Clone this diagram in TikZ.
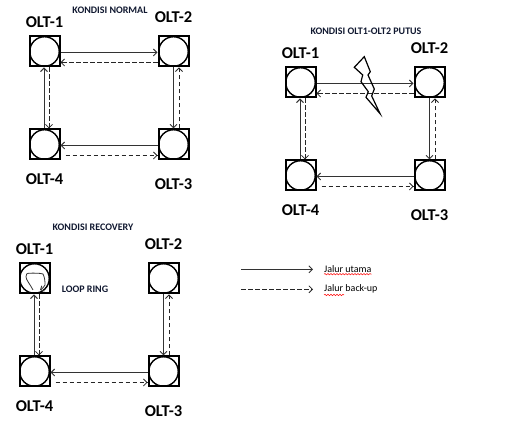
\documentclass[tikz,border=0pt]{standalone}
\usepackage{fontspec}
\setmainfont{Carlito}
\usetikzlibrary{arrows.meta,positioning,calc,decorations.pathmorphing}
\definecolor{titlenavy}{HTML}{101830}
\tikzset{
    oltbox/.style={rectangle, draw=black, line width=2pt, minimum size=30pt, inner sep=0pt, fill=white},
    oltring/.style={circle, draw=black, line width=1.4pt, minimum size=29.5pt, inner sep=0pt},
    oltname/.style={font=\bfseries\fontsize{16.5}{16.5}\selectfont, inner sep=0pt},
    paneltitle/.style={font=\bfseries\fontsize{10}{10}\selectfont, text=titlenavy, inner sep=0pt},
    mainlink/.style={-{Straight Barb[length=3.5pt,width=7pt]}, line width=0.9pt, black!80},
    backlink/.style={-{Straight Barb[length=3.5pt,width=7pt]}, line width=0.8pt, dash pattern=on 4.5pt off 2.5pt, black!85},
    legendtext/.style={font=\fontsize{10}{10}\selectfont, inner sep=0pt, anchor=west},
    spell/.style={red, line width=0.5pt, decorate, decoration={snake, amplitude=0.7pt, segment length=3pt}}
}
\begin{document}
\begin{tikzpicture}[x=1pt,y=-1pt]
\useasboundingbox (0,0) rectangle (528,435);

% the three panels
\foreach \p/\xl/\yt/\xr/\yb in {n/44.5/51.5/173.5/144.5, c/300.5/82.5/429.5/175.5, r/34.5/278.5/163.5/371.5} {
    \node[oltbox] (\p1) at (\xl,\yt) {};
    \node[oltbox] (\p2) at (\xr,\yt) {};
    \node[oltbox] (\p3) at (\xr,\yb) {};
    \node[oltbox] (\p4) at (\xl,\yb) {};
    \foreach \k in {1,2,3,4} \node[oltring] (\p\k c) at (\p\k) {};
    \node[oltname, above=8pt of \p1] {OLT-1};
    \node[oltname, above=13pt of \p2] {OLT-2};
    \node[oltname, below=17.5pt of \p3] {OLT-3};
    \node[oltname, below=12.5pt of \p4] {OLT-4};
    % links on the left, right and bottom
    \draw[mainlink] ([xshift=-0.5pt]\p4.north) -- ([xshift=-0.5pt]\p1.south);
    \draw[backlink] ([xshift=4.5pt]\p1.south) -- ([xshift=4.5pt]\p4.north);
    \draw[mainlink] (\p2.south) -- (\p3.north);
    \draw[backlink] ([xshift=5.5pt]\p3.north) -- ([xshift=5.5pt]\p2.south);
    \draw[mainlink] ([yshift=-1pt]\p3.west) -- ([yshift=-1pt]\p4.east);
    \draw[backlink] ([xshift=5pt,yshift=-11pt]\p4.east) -- ([yshift=-11pt]\p3.west);
}

% top links, not in the recovery panel
\foreach \p in {n,c} {
    \draw[mainlink] ([yshift=-1pt]\p1.east) -- ([yshift=-1pt]\p2.west);
    \draw[backlink] ([yshift=-11pt]\p2.west) -- ([yshift=-11pt]\p1.east);
}

\node[paneltitle] (tn) at (110,10) {KONDISI NORMAL};
\node[paneltitle] (tc) at (366,31) {KONDISI OLT1-OLT2 PUTUS};
\node[paneltitle] (tr) at (93,227) {KONDISI RECOVERY};
\node[paneltitle] (loop) at (85,289) {LOOP RING};

% bolt
\draw[line width=1.2pt, line join=miter]
    (364.3,56.7) -- (354.3,67.3) -- (362.7,75) -- (361,81.7) -- (368.3,91.7) -- (366,97.3) -- (380,113.6)
    -- (371.7,96) -- (374.3,89) -- (368,75) -- (370.3,71.7) -- cycle;

% loop inside OLT-1
\draw[-{Straight Barb[length=3pt,width=6pt]}, line width=0.8pt, black!80]
    (33,290) .. controls (30,284) and (26,280) .. (26,276.7) .. controls (26,274) and (27,273.3) .. (28.3,273.3)
    .. controls (33,273) and (40,273) .. (43,274) .. controls (45,278) and (45,282) .. (45,285) .. controls (44,287) and (42,289) .. (40,290);

% legend
\coordinate (ma) at (241,269.3);
\coordinate (mb) at (313,269.3);
\coordinate (ba) at (241,289.3);
\coordinate (bb) at (313,289.3);
\draw[mainlink] (ma) -- (mb);
\draw[backlink] (ba) -- (bb);
\node[legendtext] (lu) at (324,269) {Jalur utama};
\node[legendtext] (lb) at (324,289) {Jalur back-up};
\draw[spell] ([yshift=-1.5pt]lu.south west) -- ([yshift=-1.5pt]lu.south east);
\draw[spell] ([yshift=-1.5pt]lb.south west) -- ++(20,0);
\end{tikzpicture}
\end{document}
